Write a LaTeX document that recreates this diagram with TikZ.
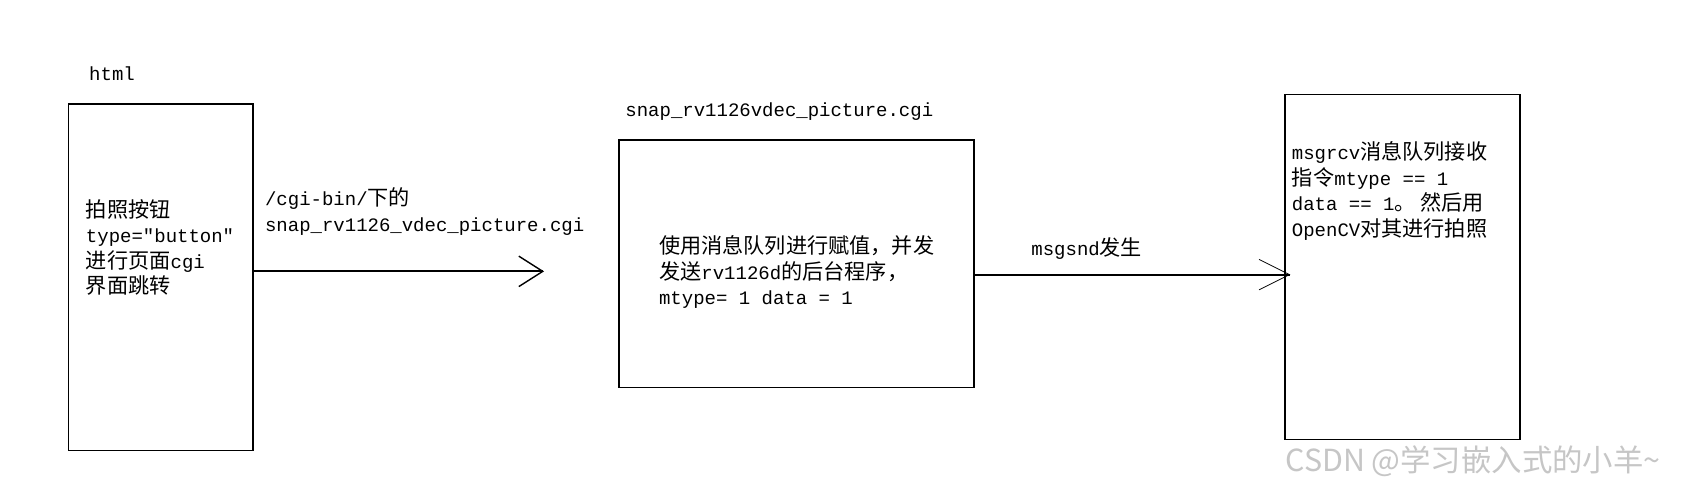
\documentclass[tikz,border=0pt]{standalone}
\usepackage{fontspec}
\setmainfont{Liberation Mono}
\newfontfamily\cjk{Noto Sans CJK SC}
\newcommand{\zh}[1]{{\cjk\fontsize{19.5}{23.5}\selectfont #1}}
\begin{document}
\begin{tikzpicture}[x=1pt,y=-1pt,
  box/.style={draw,line width=1.6pt,inner sep=0pt},
  lab/.style={anchor=west,inner sep=0pt,align=left,font=\fontsize{17.5}{23.5}\selectfont},
  conn/.style={line width=1.8pt}]
\useasboundingbox (0,0) rectangle (1568,450);
\fill[white] (0,0) rectangle (1568,450);
\draw[box] (63,96) rectangle (233,415);
\draw[box] (570,129) rectangle (897,357);
\draw[box] (1184,87) rectangle (1400,405);
\coordinate (a1) at (233,250); \coordinate (a2) at (500,250);
\coordinate (b1) at (897,253); \coordinate (b2) at (1188,253);
\draw[conn] (a1) -- (a2);
\draw[line width=1.3pt] (478,236) -- (a2) -- (478,264);
\draw[conn] (b1) -- (b2);
\draw[line width=0.7pt] (1160,239) -- (b2) -- (1160,267);
\node[lab] (html) at (82,68) {html};
\node[lab] (cgi) at (576,103) {snap\_rv1126vdec\_picture.cgi};
\node[lab] (l1) at (244,195) {/cgi-bin/\zh{下的}\\snap\_rv1126\_vdec\_picture.cgi};
\node[lab] (t1) at (79,228) {\zh{拍照按钮}\\type=″button″\\\zh{进行页面}cgi\\\zh{界面跳转}};
\node[lab] (t2) at (607,251) {\zh{使用消息队列进行赋值，并发}\\\zh{发送}rv1126d\zh{的后台程序，}\\mtype= 1 data = 1};
\node[lab] (snd) at (950,229) {msgsnd\zh{发生}};
\node[lab] (t3) at (1190,176) {msgrcv\zh{消息队列接收}\\\zh{指令}mtype == 1\\data == 1\zh{。 然后用}\\OpenCV\zh{对其进行拍照}};
\node[lab,text=gray!45,font=\cjk\fontsize{28}{29}\selectfont] (wm) at (1184,425) {CSDN @学习嵌入式的小羊\textasciitilde};
\end{tikzpicture}
\end{document}
